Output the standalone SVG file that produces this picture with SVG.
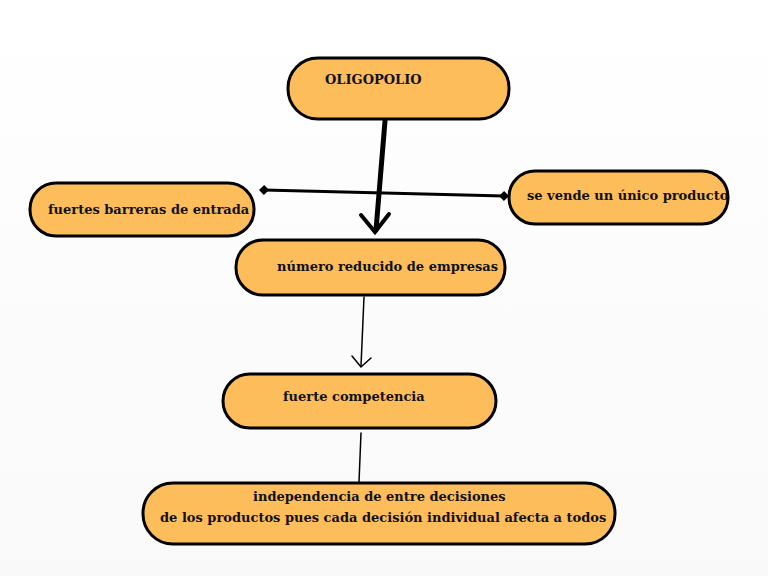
<svg xmlns="http://www.w3.org/2000/svg" width="768" height="576" viewBox="0 0 768 576">
<defs>
<linearGradient id="bg" x1="0" y1="0" x2="0" y2="1"><stop offset="0" stop-color="#ffffff"/><stop offset="1" stop-color="#f9f9f9"/></linearGradient>
<marker id="dia" markerWidth="10" markerHeight="10" refX="5" refY="5" orient="auto" markerUnits="userSpaceOnUse"><path d="M0,5 L5,0 L10,5 L5,10 Z" fill="#000"/></marker>
</defs>
<style>
.n{fill:#fdbd5a;stroke:#000;stroke-width:3}
.t{font-family:"DejaVu Serif","Liberation Serif",serif;font-weight:bold;font-size:13px;fill:#111}
.c{fill:none;stroke:#000;stroke-linecap:round}
</style>
<rect width="768" height="576" fill="url(#bg)"/>
<g id="connectors">
<path class="c" d="M385,121 L376,230" stroke-width="5"/>
<path class="c" d="M361,215 L375,232 L389,214" stroke-width="4"/>
<path class="c" d="M264,190 L504,196" stroke-width="3" marker-start="url(#dia)" marker-end="url(#dia)"/>
<path class="c" d="M364,297 L361,366" stroke-width="1.5"/>
<path class="c" d="M352,356 L361,367 L371,358" stroke-width="1.5"/>
<path class="c" d="M361,433 L359,482" stroke-width="1.5"/>
</g>
<g id="oligopolio"><rect class="n" x="288" y="58" width="221" height="61" rx="30"/><text class="t" x="325" y="84" font-size="17">OLIGOPOLIO</text></g>
<g id="barreras"><rect class="n" x="30" y="183" width="224" height="53" rx="26"/><text class="t" x="48" y="214">fuertes barreras de entrada</text></g>
<g id="producto"><rect class="n" x="509" y="171" width="219" height="53" rx="26"/><text class="t" x="527" y="200">se vende un único producto</text></g>
<g id="empresas"><rect class="n" x="236" y="240" width="269" height="55" rx="27"/><text class="t" x="277" y="271">número reducido de empresas</text></g>
<g id="competencia"><rect class="n" x="223" y="374" width="273" height="54" rx="27"/><text class="t" x="283" y="401">fuerte competencia</text></g>
<g id="independencia"><rect class="n" x="143" y="483" width="472" height="61" rx="30"/><text class="t" x="253" y="501">independencia de entre decisiones</text><text class="t" x="160" y="522">de los productos pues cada decisión individual afecta a todos</text></g>
</svg>
